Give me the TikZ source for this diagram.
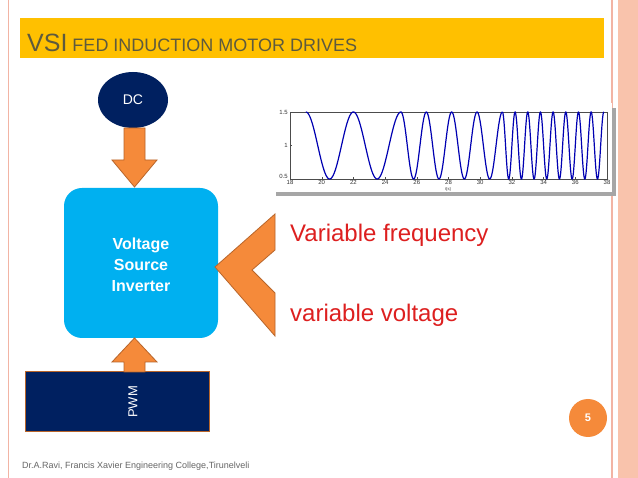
\documentclass[tikz,border=0pt]{standalone}
\usepackage{fontspec}
\setmainfont{Liberation Sans}
\usetikzlibrary{shapes.geometric}
\begin{document}
\begin{tikzpicture}[x=1pt,y=-1pt,
  navy/.style={fill=navyc,draw=none},
  orangearrow/.style={fill=orangec,draw=orangeb,line width=0.8pt},
  tick/.style={font=\fontsize{6}{6}\selectfont,text=black!80},
  curve/.style={draw=blue!70!black,line width=1.2pt}]
\definecolor{navyc}{HTML}{002060}
\definecolor{orangec}{HTML}{F58A3A}
\definecolor{orangeb}{HTML}{B8652A}
\definecolor{cyanc}{HTML}{00B0F0}
\definecolor{titlec}{HTML}{FFC000}
\definecolor{titletext}{HTML}{5E5A3E}
\definecolor{redt}{HTML}{DD1F1F}
\definecolor{pinkl}{HTML}{F2B4A4}
\definecolor{salmon}{HTML}{F9C3AC}
\useasboundingbox (0,0) rectangle (638,478);
\fill[white] (0,0) rectangle (638,478);
% side decorations
\fill[pinkl] (7.5,0) rectangle (9,478);
\fill[pinkl] (611,0) rectangle (613,478);
\fill[salmon] (618,0) rectangle (638,478);
% title
\fill[titlec] (20,18) rectangle (604,58);
\node[anchor=base west,text=titletext,inner sep=0] (title) at (27,52)
  {\fontsize{25}{25}\selectfont VSI\fontsize{18}{18}\selectfont{} FED INDUCTION MOTOR DRIVES};
% DC
\node[navy,ellipse,minimum width=70,minimum height=56,inner sep=0,text=white,font=\fontsize{14}{14}\selectfont] (dc) at (133,100) {DC};
% VSI
\node[fill=cyanc,rounded corners=18,minimum width=154,minimum height=150,inner sep=0] (vsi) at (141,263) {};
\node[text=white,font=\bfseries\fontsize{16}{21}\selectfont,align=center,inner sep=0] (vsit) at (141,265) {Voltage\\Source\\Inverter};
% PWM
\node[fill=navyc,draw=orangeb,line width=1pt,minimum width=184,minimum height=60,inner sep=0] (pwm) at (117,402) {};
\node[rotate=90,text=white,font=\fontsize{13}{13}\selectfont] (pwmt) at (133,402) {PWM};
% down arrow
\draw[orangearrow] (124,128) -- (145,128) -- (145,160) -- (157,160) -- (134.5,187) -- (112,160) -- (124,160) -- cycle;
% up arrow
\draw[orangearrow] (124,372) -- (145,372) -- (145,362) -- (157,362) -- (134.5,338) -- (112,362) -- (124,362) -- cycle;
% chevron
\draw[orangearrow] (275,214) -- (275,250) -- (252,270) -- (275,293) -- (275,336) -- (215,267) -- cycle;
% texts
\node[anchor=base west,inner sep=0,text=redt,font=\fontsize{24}{24}\selectfont] (vf) at (290,242) {Variable frequency};
\node[anchor=base west,inner sep=0,text=redt,font=\fontsize{24}{24}\selectfont] (vv) at (290,322) {variable voltage};
% chart
\fill[black!35] (276,108) rectangle (616,196);
\fill[white] (272,103) rectangle (612,192);
\draw[black!70,line width=0.4pt] (290,112) rectangle (607,179);
\foreach \t in {18,20,...,38}{
  \draw[black!70,line width=0.3pt] ({290+(\t-18)*15.85},179) -- ++(0,-2);
  \node[tick,anchor=north,inner sep=1pt] at ({290+(\t-18)*15.85},179) {\t};}
\foreach \v/\l/\dy in {1.5/1.5/0,1/1/0,0.5/0.5/-2.5}{
  \draw[black!70,line width=0.3pt] (290,{112+(1.5-\v)*67}) -- ++(2,0);
  \node[tick,anchor=east,inner sep=1pt] at (289,{112+(1.5-\v)*67+\dy}) {\l};}
\node[tick,font=\fontsize{4}{4}\selectfont,inner sep=0] at (448,189.5) {t[s]};
\draw[curve] plot[domain=19:25,samples=120,smooth] ({290+(\x-18)*15.85},{112+(0.5-0.5*cos(360*(\x-19)/3))*67});
\draw[curve] plot[domain=25:31.4,samples=200,smooth] ({290+(\x-18)*15.85},{112+(0.5-0.5*cos(360*(\x-25)/1.6))*67});
\draw[curve] plot[domain=31.4:37.8,samples=400,smooth] ({290+(\x-18)*15.85},{112+(0.5-0.5*cos(360*(\x-31.4)/0.8))*67});
% page number
\node[circle,fill=orangec,minimum size=38,inner sep=0,text=white,font=\bfseries\fontsize{11}{11}\selectfont] (pg) at (588,418) {5};
% footer
\node[anchor=base west,inner sep=0,text=black!60,font=\fontsize{9}{9}\selectfont] (foot) at (22,469) {Dr.A.Ravi, Francis Xavier Engineering College,Tirunelveli};
\end{tikzpicture}
\end{document}
